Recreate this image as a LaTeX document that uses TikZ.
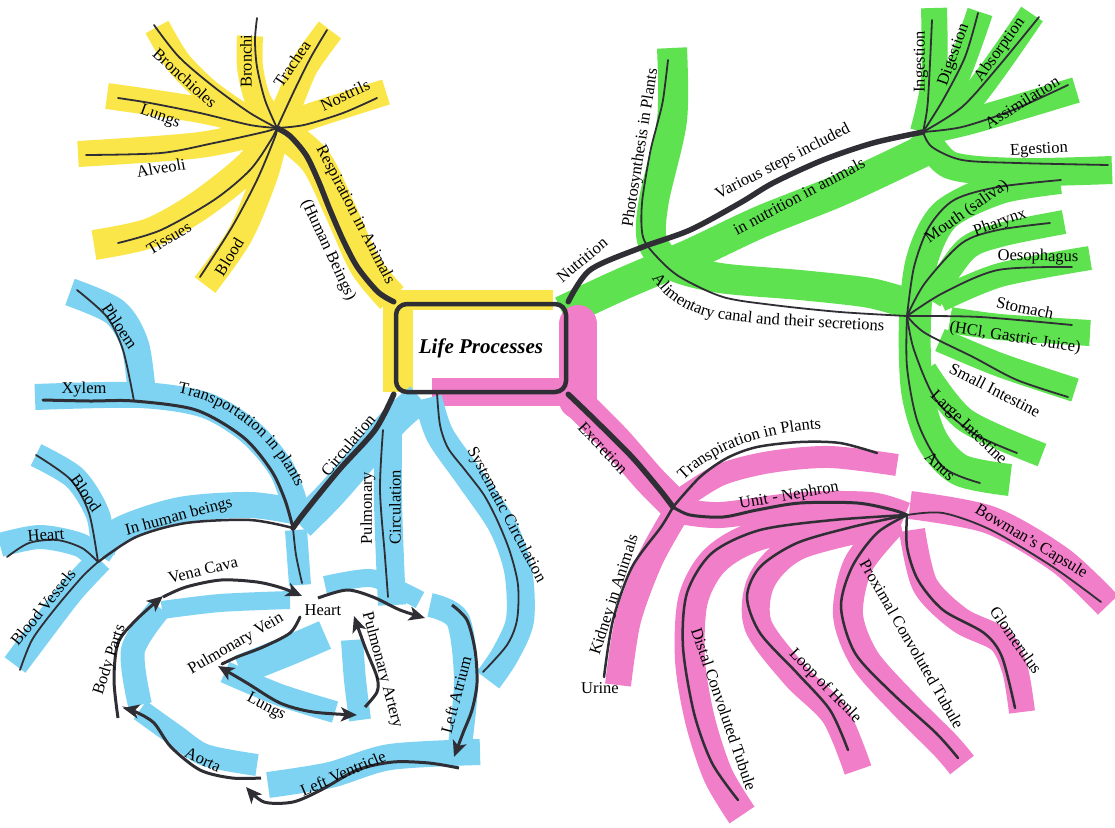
\documentclass[tikz,border=0pt]{standalone}
\usepackage{fontspec}
\setmainfont{Liberation Serif}
\usetikzlibrary{arrows.meta,decorations.text}
\definecolor{ink}{HTML}{2F2E35}
\definecolor{yel}{HTML}{FBE64A}
\definecolor{grn}{HTML}{5EE250}
\definecolor{blu}{HTML}{7ED3F2}
\definecolor{pnk}{HTML}{F07EC8}
\newcommand\lblfont{\fontsize{16.5}{18}\selectfont}
\begin{document}
\begin{tikzpicture}[x=1pt,y=-1pt,
  yb/.style={draw=yel,line width=26pt,line cap=butt,line join=round},
  gb/.style={draw=grn,line width=26pt,line cap=butt,line join=round},
  bb/.style={draw=blu,line width=22pt,line cap=butt,line join=round},
  pb/.style={draw=pnk,line width=26pt,line cap=butt,line join=round},
  ln/.style={draw=ink,line width=1.8pt,line cap=round},
  mainln/.style={draw=ink,line width=5.5pt,line cap=round,line join=round},
  arr/.style={draw=ink,line width=3pt,-{Stealth[length=16pt,width=14pt,inset=4pt]}},
  darr/.style={draw=ink,line width=3pt,{Stealth[length=16pt,width=14pt,inset=4pt]}-{Stealth[length=16pt,width=14pt,inset=4pt]}},
  lbl/.style={font=\lblfont,inner sep=0pt,text=black},
]
\useasboundingbox (0,0) rectangle (1115,827);
% ---------- hubs
\coordinate (Y) at (277,128);
\coordinate (G1) at (923,132);
\coordinate (G2) at (907,316);
\coordinate (J) at (293,528);
\coordinate (K) at (673,507);
\coordinate (N) at (907,515);
\coordinate (BV) at (98,562);
\coordinate (XP) at (134,401);
\coordinate (PC) at (383,430);

% ================= BANDS =================
% yellow
\draw[yb] plot[smooth] coordinates {(Y) (246,118) (208,92) (178,62) (157,27)};
\draw[yb] plot[smooth] coordinates {(Y) (258,100) (250,67) (250,36)};
\draw[yb,line width=28pt] plot[smooth] coordinates {(Y) (290,100) (305,65) (330,30)};
\draw[yb] plot[smooth] coordinates {(Y) (320,113) (386,92)};
\draw[yb] plot[smooth] coordinates {(Y) (200,110) (107,96)};
\draw[yb] plot[smooth] coordinates {(Y) (200,145) (78,154)};
\draw[yb,line width=30pt] plot[smooth] coordinates {(Y) (250,165) (200,205) (150,233) (94,245)};
\draw[yb] plot[smooth] coordinates {(Y) (265,175) (240,235) (205,285)};
\draw[yb,line width=32pt] plot[smooth] coordinates {(Y) (315,160) (340,210) (365,265) (392,298)};
\draw[draw=yel,line width=30pt] (398,392) -- (398,290);
\draw[draw=yel,line width=20pt] (384,300) -- (553,300);
% green
\draw[gb,line width=32pt] plot[smooth] coordinates {(562,312) (620,285) (690,255) (760,222) (840,190) (925,150)};
\draw[gb,line width=30pt] plot[smooth] coordinates {(672,48) (672,120) (654,200) (652,240) (672,265) (720,278) (800,285) (870,293) (912,305)};
\draw[gb] plot[smooth] coordinates {(G1) (934,80) (934,8)};
\draw[gb] plot[smooth] coordinates {(G1) (955,80) (980,12)};
\draw[gb] plot[smooth] coordinates {(G1) (970,100) (1032,14)};
\draw[gb] plot[smooth] coordinates {(G1) (975,120) (1076,90)};
\draw[gb,line width=28pt] plot[smooth] coordinates {(G1) (950,165) (1020,172) (1112,170)};
\draw[gb,line width=32pt] plot[smooth] coordinates {(1060,178) (1000,188) (945,215) (922,260) (915,320) (917,390) (932,440) (960,470) (1010,480)};
\draw[gb,line width=24pt] plot[smooth] coordinates {(930,300) (965,250) (1000,235) (1064,222)};
\draw[gb,line width=24pt] plot[smooth] coordinates {(940,300) (1000,275) (1090,258)};
\draw[gb] plot[smooth] coordinates {(950,320) (1000,327) (1090,333)};
\draw[gb,line width=24pt] plot[smooth] coordinates {(940,340) (1000,365) (1075,390)};
\draw[gb,line width=24pt] plot[smooth] coordinates {(925,370) (965,420) (1042,455)};
% pink
\draw[draw=pnk,line width=28pt] (432,392) -- (575,392);
\draw[draw=pnk,line width=38pt,line cap=round] (578,324) -- (578,400);
\draw[pb,line width=32pt] plot[smooth] coordinates {(575,400) (615,440) (650,480) (680,510)};
\draw[pb,line width=22pt] plot[smooth] coordinates {(680,500) (720,475) (770,462) (830,457) (897,465)};
\draw[pb] plot[smooth] coordinates {(675,515) (650,560) (628,620) (618,685)};
\draw[pb] plot[smooth] coordinates {(675,510) (720,515) (800,505) (870,505) (905,515)};
\draw[pb,line width=28pt] plot[smooth] coordinates {(910,505) (990,520) (1060,560) (1108,605)};
\draw[pb] plot[smooth] coordinates {(912,530) (925,585) (960,620) (1000,640) (1015,670) (1022,712)};
\draw[pb,line width=30pt] plot[smooth] coordinates {(890,525) (858,565) (848,615) (865,660) (905,705) (945,745) (962,765)};
\draw[pb,line width=28pt] plot[smooth] coordinates {(900,520) (800,545) (762,580) (758,625) (795,675) (835,715) (858,770)};
\draw[pb,line width=30pt] plot[smooth] coordinates {(860,515) (760,535) (715,560) (693,600) (690,660) (700,720) (718,775) (742,815)};
% blue
\draw[bb,line width=30pt] plot[smooth] coordinates {(420,398) (395,420) (365,455) (330,495) (300,525)};
\draw[bb,line width=26pt] plot[smooth] coordinates {(35,397) (140,395) (205,405) (250,432) (282,470) (298,515)};
\draw[bb,line width=28pt] plot[smooth] coordinates {(70,292) (115,312) (135,345) (142,395)};
\draw[bb,line width=26pt] plot[smooth] coordinates {(298,512) (250,505) (180,510) (120,530) (98,555)};
\draw[bb] plot[smooth] coordinates {(296,530) (300,585)};
\draw[bb,line width=24pt] plot[smooth] coordinates {(36,455) (75,478) (98,515) (103,555)};
\draw[bb,line width=24pt] plot[smooth] coordinates {(0,545) (40,537) (80,545) (98,560)};
\draw[bb,line width=26pt] plot[smooth] coordinates {(100,560) (72,590) (45,625) (15,665)};
\draw[bb,line width=28pt] plot[smooth] coordinates {(388,430) (388,500) (390,560) (392,605)};
\draw[bb,line width=28pt] plot[smooth] coordinates {(428,398) (440,435) (470,478) (502,525) (518,570) (520,620) (505,655) (488,680)};
\draw[bb,line width=18pt] plot[smooth] coordinates {(162,610) (220,603) (290,600)};
\draw[bb,line width=18pt] plot[smooth] coordinates {(325,585) (370,578) (400,590) (420,600)};
\draw[bb,line width=24pt] plot[smooth] coordinates {(430,605) (458,620) (466,680) (460,745)};
\draw[bb,line width=26pt] plot[smooth] coordinates {(268,785) (330,775) (390,757) (480,752)};
\draw[bb] plot[smooth] coordinates {(140,710) (175,735) (205,755) (257,765)};
\draw[bb,line width=24pt] plot[smooth] coordinates {(140,705) (133,650) (160,608)};
\draw[bb,line width=30pt] plot[smooth] coordinates {(240,670) (290,650) (325,635)};
\draw[bb] plot[smooth] coordinates {(225,672) (280,695) (335,712)};
\draw[bb] plot[smooth] coordinates {(352,640) (355,680) (360,720)};

% ================= CENTRAL BOX =================
\node[draw=ink,line width=4.5pt,rounded corners=11pt,minimum width=170pt,minimum height=88pt,inner sep=0pt,
      font=\fontsize{21}{23}\selectfont\bfseries\itshape] (LP) at (481,348) {Life Processes};

% ================= MAIN LINES =================
\draw[mainln] plot[smooth] coordinates {(Y) (290,136) (306,155) (318,180) (330,210) (344,242) (358,268) (378,292) (LP.north west)};
\draw[mainln] plot[smooth] coordinates {(LP.north east) (590,270) (640,248) (690,230) (740,203) (773,183) (823,160) (873,143) (G1)};
\draw[mainln] plot[smooth] coordinates {(LP.south east) (595,420) (632,457) (660,490) (K)};
\draw[mainln] plot[smooth] coordinates {(LP.south west) (375,430) (339,470) (304,513) (J)};

% yellow branches
\draw[ln] plot[smooth] coordinates {(Y) (250,113) (214,87) (179,57) (154,25)};
\draw[ln] plot[smooth] coordinates {(Y) (265,100) (257,67) (255,40) (257,18)};
\draw[ln] plot[smooth] coordinates {(Y) (282,117) (296,87) (311,57) (327,30)};
\draw[ln] plot[smooth] coordinates {(Y) (304,125) (343,113) (377,98)};
\draw[ln] plot[smooth] coordinates {(Y) (250,125) (200,113) (150,103) (118,98)};
\draw[ln] plot[smooth] coordinates {(Y) (264,132) (214,143) (161,153) (86,155)};
\draw[ln] plot[smooth] coordinates {(Y) (271,140) (250,170) (214,200) (161,230) (118,243)};
\draw[ln] plot[smooth] coordinates {(Y) (275,137) (257,180) (232,227) (200,277)};

% green branches
\draw[ln] plot[smooth] coordinates {(668,60) (663,100) (657,125) (650,153) (642,203) (643,237) (657,257) (680,277) (723,297) (773,305) (840,312) (G2)};
\draw[ln] plot[smooth] coordinates {(G1) (927,110) (929,83) (932,20)};
\draw[ln] plot[smooth] coordinates {(G1) (943,100) (965,57) (978,13)};
\draw[ln] plot[smooth] coordinates {(G1) (962,107) (998,67) (1039,17)};
\draw[ln] plot[smooth] coordinates {(G1) (962,127) (1013,110) (1068,85)};
\draw[ln] plot[smooth] coordinates {(G1) (932,147) (962,160) (1017,163) (1108,165)};
\draw[ln] plot[smooth] coordinates {(G2) (914,267) (929,227) (954,200) (998,187) (1061,180)};
\draw[ln] plot[smooth] coordinates {(G2) (925,283) (962,243) (998,230) (1050,223)};
\draw[ln] plot[smooth] coordinates {(G2) (943,293) (998,270) (1072,267)};
\draw[ln] plot[smooth] coordinates {(G2) (980,317) (1072,325)};
\draw[ln] plot[smooth] coordinates {(G2) (925,333) (973,357) (1017,380) (1068,397)};
\draw[ln] plot[smooth] coordinates {(G2) (914,350) (936,400) (973,433) (1017,453)};
\draw[ln] plot[smooth] coordinates {(G2) (907,367) (918,423) (943,467) (980,483)};

% blue branches
\draw[ln,line width=3pt] plot[smooth] coordinates {(43,400) (90,401) (XP) (196,410) (243,437) (271,470) (285,500) (J)};
\draw[ln] plot[smooth] coordinates {(77,290) (107,317) (123,350) (XP)};
\draw[ln,line width=2.5pt] plot[smooth] coordinates {(J) (250,520) (186,523) (136,537) (BV)};
\draw[ln] plot[smooth] coordinates {(36,455) (71,480) (89,513) (BV)};
\draw[ln] plot[smooth] coordinates {(7,557) (29,543) (57,540) (82,548) (BV)};
\draw[ln] plot[smooth] coordinates {(BV) (82,577) (54,610) (32,640) (20,670)};
\draw[ln] plot[smooth] coordinates {(J) (296,555) (302,583)};
\draw[ln] plot[smooth] coordinates {(PC) (380,490) (385,557) (388,597)};
\draw[ln] plot[smooth] coordinates {(437,393) (440,425) (448,448) (465,470) (484,495) (498,522) (510,552) (518,585) (517,620) (507,645) (483,672)};

% heart cycle
\node[lbl] (heart) at (323,610) {Heart};
\draw[arr] plot[smooth] coordinates {(163,597) (186,587) (221,580) (257,582) (282,588) (302,596)};
\draw[arr] plot[smooth] coordinates {(318,598) (347,590) (373,597) (400,610) (425,618)};
\draw[arr] plot[smooth] coordinates {(452,605) (467,620) (475,650) (477,683) (472,710) (463,733) (454,757)};
\draw[arr] plot[smooth] coordinates {(459,768) (429,763) (393,762) (357,770) (321,790) (293,802) (264,802) (246,787)};
\draw[arr] plot[smooth] coordinates {(261,778) (232,778) (200,770) (171,747) (154,723) (136,712) (123,708)};
\draw[arr] plot[smooth] coordinates {(118,718) (114,680) (118,643) (136,620) (163,596)};
\draw[ln,line width=3pt] plot[smooth] coordinates {(300,617) (290,633) (263,647) (237,657) (222,664)};
\draw[darr] plot[smooth] coordinates {(218,666) (247,683) (280,703) (313,712) (357,715)};
\draw[arr] plot[smooth] coordinates {(365,707) (377,692) (377,677) (365,647) (354,616)};

% pink branches
\draw[ln,line width=2.5pt] plot[smooth] coordinates {(K) (700,477) (727,458) (757,447) (800,442) (840,443) (877,453)};
\draw[ln,line width=2.5pt] plot[smooth] coordinates {(K) (661,527) (632,567) (613,620) (604,677)};
\draw[ln,line width=3pt] plot[smooth] coordinates {(K) (690,515) (723,517) (757,510) (800,503) (857,503) (893,510) (N)};
\draw[ln] plot[smooth] coordinates {(N) (943,513) (991,530) (1053,567) (1101,602)};
\draw[ln,line width=2.5pt] plot[smooth] coordinates {(N) (907,547) (918,580) (943,610) (984,633) (1002,657) (1015,708)};
\draw[ln,line width=2.5pt] plot[smooth] coordinates {(N) (877,533) (852,567) (841,607) (855,653) (892,693) (936,733) (958,758)};
\draw[ln,line width=2.5pt] plot[smooth] coordinates {(N) (852,527) (797,543) (760,567) (747,597) (760,633) (797,673) (830,710) (848,750)};
\draw[ln,line width=2.5pt] plot[smooth] coordinates {(N) (833,520) (760,530) (712,553) (687,593) (683,647) (694,713) (712,763) (738,800)};

% ================= LABELS =================
% yellow
\node[lbl,rotate=-42] (t1) at (185,78) {Bronchioles};
\node[lbl,rotate=90] (t2) at (246,61) {Bronchi};
\node[lbl,rotate=56] (t3) at (292,64) {Trachea};
\node[lbl,rotate=25] (t4) at (345,95) {Nostrils};
\node[lbl,rotate=-20] (t5) at (160,117) {Lungs};
\node[lbl,rotate=10] (t6) at (161,168) {Alveoli};
\node[lbl,rotate=31] (t7) at (169,238) {Tissues};
\node[lbl,rotate=58] (t8) at (229,257) {Blood};
\node[lbl,rotate=-62.5] (t9) at (355,215) {Respiration in Animals};
\node[lbl,rotate=-65] (t10) at (328,250) {(Human Beings)};
% green
\node[lbl,rotate=40] (g1) at (582,260) {Nutrition};
\node[lbl,rotate=27] (g2) at (783,162) {Various steps included};
\node[lbl,rotate=28] (g3) at (799,196) {in nutrition in animals};
\node[lbl,rotate=81] (g4) at (641,148) {Photosynthesis in Plants};
\path[decorate,decoration={text along path,text={|\lblfont|Alimentary canal and their secretions},text align=center}]
   plot[smooth] coordinates {(640,262) (668,297) (705,316) (760,324) (830,328) (904,332)};
\node[lbl,rotate=90] (g5) at (921,62) {Ingestion};
\node[lbl,rotate=70] (g6) at (954,55) {Digestion};
\node[lbl,rotate=54] (g7) at (1000,50) {Absorption};
\node[lbl,rotate=32] (g8) at (1022,102) {Assimilation};
\node[lbl,rotate=3] (g9) at (1039,150) {Egestion};
\node[lbl,rotate=35] (g10) at (967,212) {Mouth (saliva)};
\node[lbl,rotate=20] (g11) at (1000,223) {Pharynx};
\node[lbl,rotate=-1] (g12) at (1038,257) {Oesophagus};
\node[lbl,rotate=-12] (g13) at (1025,308) {Stomach};
\node[lbl,rotate=-9] (g14) at (1015,338) {(HCl, Gastric Juice)};
\node[lbl,rotate=-27] (g15) at (995,390) {Small Intestine};
\node[lbl,rotate=-44] (g16) at (968,428) {Large Intestine};
\node[lbl,rotate=-43] (g17) at (940,466) {Anus};
% blue
\node[lbl,rotate=-56] (b1) at (120,326) {Phloem};
\node[lbl] (b2) at (84,390) {Xylem};
\path[decorate,decoration={text along path,text={|\lblfont|Transportation in plants},text align=center}]
   (164,391) .. controls (228,398) and (276,438) .. (302,500);
\node[lbl,rotate=50] (b3) at (348,445) {Circulation};
\node[lbl,rotate=15] (b4) at (179,517) {In human beings};
\node[lbl,rotate=-55] (b5) at (86,493) {Blood};
\node[lbl,rotate=5] (b6) at (46,535) {Heart};
\node[lbl,rotate=51] (b7) at (43,607) {Blood Vessels};
\node[lbl,rotate=90] (b8) at (368,508) {Pulmonary};
\node[lbl,rotate=90] (b9) at (395,507) {Circulation};
\node[lbl,rotate=-62] (b10) at (506,515) {Systematic Circulation};
\node[lbl,rotate=14] (b11) at (203,570) {Vena Cava};
\node[lbl,rotate=30] (b12) at (236,644) {Pulmonary Vein};
\node[lbl,rotate=-28] (b13) at (266,707) {Lungs};
\node[lbl,rotate=-75] (b14) at (382,670) {Pulmonary Artery};
\node[lbl,rotate=75] (b15) at (456,695) {Left Atrium};
\node[lbl,rotate=23] (b16) at (343,773) {Left Ventricle};
\node[lbl,rotate=-25] (b17) at (203,760) {Aorta};
\node[lbl,rotate=72] (b18) at (110,660) {Body Parts};
% pink
\node[lbl,rotate=-47] (p1) at (603,448) {Excretion};
\path[decorate,decoration={text along path,text={|\lblfont|Transpiration in Plants},text align=center}]
   (676,488) .. controls (710,450) and (760,432) .. (832,428);
\node[lbl,rotate=72] (p2) at (615,595) {Kidney in Animals};
\node[lbl] (p3) at (600,688) {Urine};
\node[lbl,rotate=10] (p4) at (789,496) {Unit - Nephron};
\node[lbl,rotate=-31] (p5) at (1031,542) {Bowman's Capsule};
\node[lbl,rotate=-55] (p6) at (1016,640) {Glomerulus};
\node[lbl,rotate=-60] (p7) at (912,644) {Proximal Convoluted Tubule};
\node[lbl,rotate=-46] (p8) at (825,686) {Loop of Henle};
\node[lbl,rotate=-71] (p9) at (724,709) {Distal Convoluted Tubule};
\end{tikzpicture}
\end{document}
